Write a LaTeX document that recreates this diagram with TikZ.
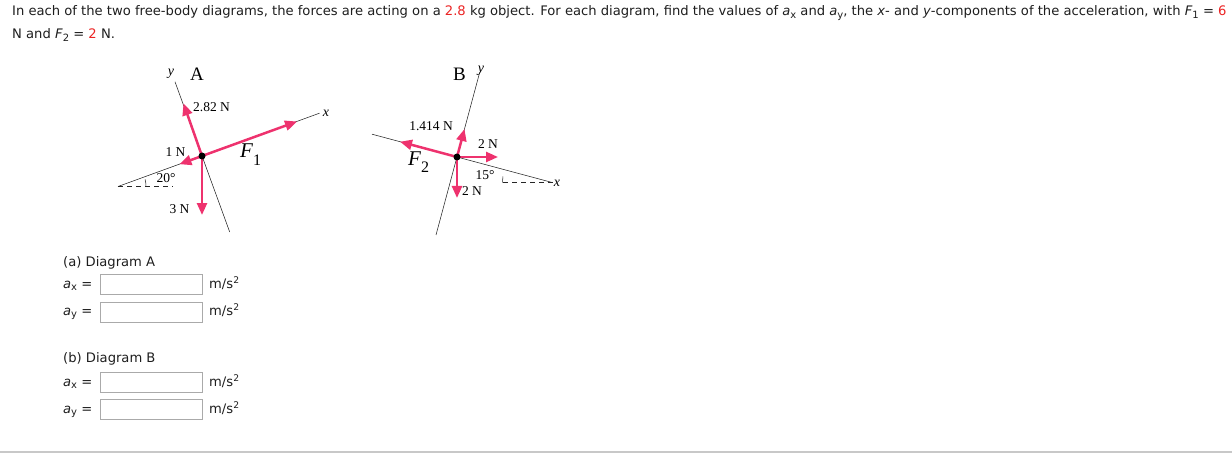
\documentclass[tikz,border=0pt]{standalone}
\usepackage{fontspec}
\setmainfont{DejaVu Sans}
\newfontfamily\serifA{Liberation Serif}
\usetikzlibrary{arrows.meta}
\definecolor{pinkF}{RGB}{238,50,110}
\definecolor{redT}{RGB}{235,35,35}
\definecolor{boxgray}{RGB}{170,170,170}
\definecolor{rulegray}{RGB}{200,200,200}
\definecolor{txtcol}{RGB}{30,30,30}
\newcommand\sbx[1]{\raisebox{-0.32ex}{\fontsize{10}{10}\selectfont #1}}
\newcommand\va{\textit{a}}
\begin{document}
\begin{tikzpicture}[x=1pt,y=-1pt,
  force/.style={draw=pinkF, line width=2.5pt, -{Triangle[length=12pt,width=10pt]}},
  axisline/.style={draw=black!85, line width=0.55pt},
  refline/.style={draw=black!85, line width=0.55pt, dash pattern=on 5pt off 4pt},
  lbl/.style={font=\serifA\fontsize{13.5}{13.5}\selectfont, inner sep=0pt},
  bigl/.style={font=\serifA\fontsize{19}{19}\selectfont, inner sep=0pt},
  itl/.style={font=\serifA\itshape\fontsize{14}{14}\selectfont, inner sep=0pt},
  txt/.style={font=\fontsize{13.13}{15}\selectfont, text=txtcol, inner sep=0pt, anchor=base west},
  ansbox/.style={draw=boxgray, line width=0.8pt, minimum width=102pt, minimum height=20pt, inner sep=0pt},
  bdot/.style={circle, fill=black, inner sep=0pt, minimum size=7pt}]
\useasboundingbox (0,0) rectangle (1232,476);

% ---------- question text ----------
\node[txt] (q1) at (12,16) {In each of the two free-body diagrams, the forces are acting on a \textcolor{redT}{2.8} kg object. For each diagram, find the values of \va\sbx{x} and \va\sbx{y}, the \textit{x}- and \textit{y}-components of the acceleration, with \textit{F}\sbx{1} = \textcolor{redT}{6}};
\node[txt] (q2) at (12,39) {N and \textit{F}\sbx{2} = \textcolor{redT}{2} N.};

% ---------- diagram A ----------
\coordinate (dA) at (202,156);
\coordinate (axA1) at (118,186.5);
\coordinate (axA2) at (319.5,113.2);
\coordinate (ayA1) at (175,81.8);
\coordinate (ayA2) at (229.7,232);
\draw[axisline] (axA1) -- (axA2);
\draw[axisline] (ayA1) -- (ayA2);
\coordinate (rA1) at (118,186.5);
\coordinate (rA2) at (173,186.5);
\draw[refline] (rA1) -- (rA2);
\draw[axisline] (146,186.5) arc[start angle=0, end angle=-15, radius=28];
\node[lbl] (ang20) at (166,178) {20°};

\coordinate (tA282) at (183.5,103.4);
\coordinate (tAF1) at (297,121.5);
\coordinate (tA1) at (179.4,164.2);
\coordinate (tA3) at (202,215);
\draw[force] (dA) -- (tA282);
\draw[force] (dA) -- (tAF1);
\draw[force] (dA) -- (tA1);
\draw[force] (dA) -- (tA3);
\node[bdot] (dotA) at (dA) {};

\node[bigl] (labA) at (197,74) {A};
\node[itl] (yA) at (171,74) {y};
\node[itl] (xA) at (326,113) {x};
\node[lbl, anchor=west] (l282) at (193,107) {2.82 N};
\node[lbl] (l1N) at (175.5,152.5) {1 N};
\node[lbl] (l3N) at (179.5,209) {3 N};
\node[inner sep=0pt, anchor=base west] (lF1) at (240,158) {\serifA\fontsize{21}{21}\selectfont\textit{F}\raisebox{-7pt}{\fontsize{16}{16}\selectfont 1}};

% ---------- diagram B ----------
\coordinate (dB) at (457,157);
\coordinate (axB1) at (372,134.2);
\coordinate (axB2) at (552.6,182.6);
\coordinate (ayB1) at (479.8,72);
\coordinate (ayB2) at (436,235);
\draw[axisline] (axB1) -- (axB2);
\draw[axisline] (ayB1) -- (ayB2);
\coordinate (rB1) at (503,182.6);
\draw[refline] (rB1) -- (axB2);
\draw[axisline] (502.6,182.6) arc[start angle=180, end angle=187, radius=50];
\node[lbl] (ang15) at (485,175) {15°};

\coordinate (tBF2) at (400,141.7);
\coordinate (tB1414) at (464.5,129);
\coordinate (tB2r) at (498,157);
\coordinate (tB2d) at (457,198);
\draw[force] (dB) -- (tBF2);
\draw[force] (dB) -- (tB1414);
\draw[force] (dB) -- (tB2r);
\draw[force] (dB) -- (tB2d);
\node[bdot] (dotB) at (dB) {};

\node[bigl] (labB) at (459.5,74) {B};
\node[itl] (yB) at (481,71) {y};
\node[itl] (xB) at (557,183) {x};
\node[lbl] (l1414) at (431,126) {1.414 N};
\node[lbl] (l2r) at (488,144) {2 N};
\node[lbl] (l2d) at (472,191) {2 N};
\node[inner sep=0pt, anchor=base west] (lF2) at (408,165) {\serifA\fontsize{21}{21}\selectfont\textit{F}\raisebox{-7pt}{\fontsize{16}{16}\selectfont 2}};

% ---------- answer part ----------
\node[txt] (pa) at (63,266) {(a) Diagram A};
\node[txt] (axa) at (63,288) {\va\sbx{x} =};
\node[ansbox, anchor=north west] (bxa) at (100,274) {};
\node[txt] (ua1) at (209,288) {m/s\textsuperscript{2}};
\node[txt] (aya) at (63,315) {\va\sbx{y} =};
\node[ansbox, anchor=north west] (bya) at (100,302) {};
\node[txt] (ua2) at (209,315) {m/s\textsuperscript{2}};

\node[txt] (pb) at (63,362) {(b) Diagram B};
\node[txt] (axb) at (63,386) {\va\sbx{x} =};
\node[ansbox, anchor=north west] (bxb) at (100,372) {};
\node[txt] (ub1) at (209,386) {m/s\textsuperscript{2}};
\node[txt] (ayb) at (63,413) {\va\sbx{y} =};
\node[ansbox, anchor=north west] (byb) at (100,399) {};
\node[txt] (ub2) at (209,413) {m/s\textsuperscript{2}};

% ---------- bottom rule ----------
\coordinate (ru1) at (0,452);
\coordinate (ru2) at (1232,452);
\draw[rulegray, line width=1.5pt] (ru1) -- (ru2);
\end{tikzpicture}
\end{document}
